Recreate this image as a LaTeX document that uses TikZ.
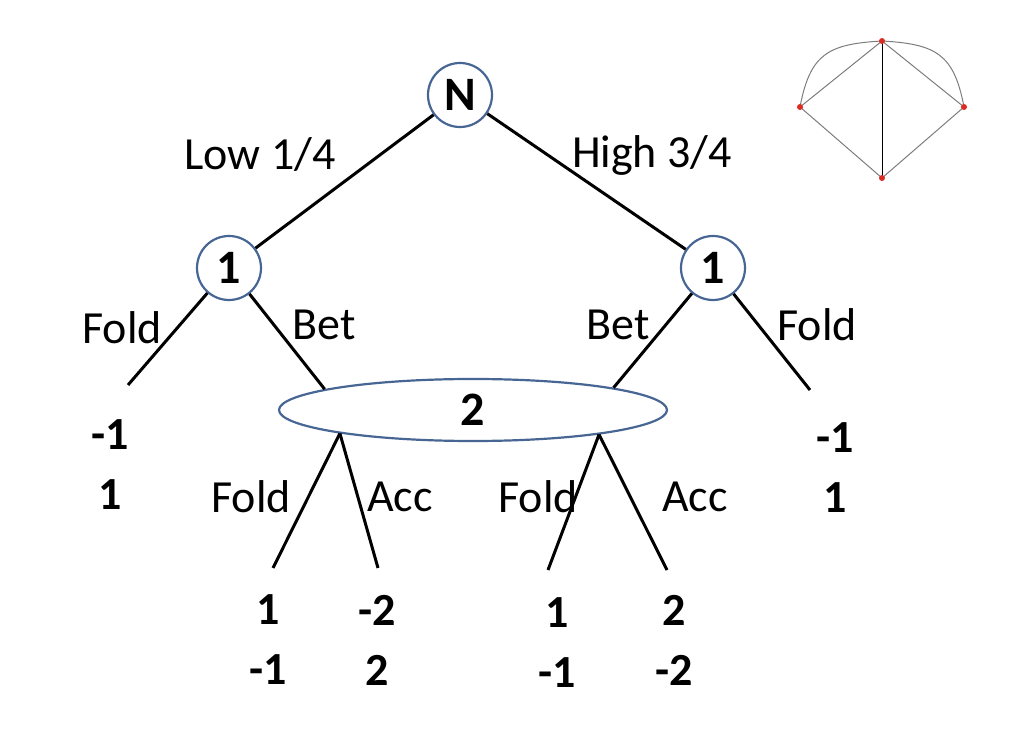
\documentclass[tikz,border=0pt]{standalone}
\usepackage{fontspec}
\setmainfont{Carlito}
\usetikzlibrary{shapes.geometric}
\definecolor{nodeblue}{RGB}{72,102,148}
\definecolor{graphgray}{RGB}{125,125,125}
\definecolor{dotred}{RGB}{220,45,35}

\begin{document}
\begin{tikzpicture}[
        x=0.5pt, y=-0.5pt,
        player/.style={circle, draw=nodeblue, line width=1.1pt, minimum size=32pt, inner sep=0pt, font=\fontsize{24}{28}\selectfont\bfseries},
        infoset/.style={ellipse, draw=nodeblue, line width=1.1pt, minimum width=194pt, minimum height=31pt, inner sep=0pt, font=\fontsize{24}{28}\selectfont\bfseries},
        branch/.style={line width=1.5pt},
        act/.style={font=\fontsize{23}{27}\selectfont},
        pay/.style={align=center, font=\fontsize{23}{30}\selectfont\bfseries},
        vdot/.style={circle, fill=dotred, inner sep=0pt, minimum size=3pt}
    ]
        \useasboundingbox (0,0) rectangle (1034,748);

        % decision nodes
        \node[player] (chance) at (460,95) {N};
        \node[player] (low) at (229,268) {1};
        \node[player] (high) at (713,268) {1};
        \node[infoset] (info) at (473,410) {2};

        % end points of the branches
        \coordinate (lowfold) at (128,385);
        \coordinate (highfold) at (810,390);
        \coordinate (lfold) at (273,568);
        \coordinate (lacc) at (378,568);
        \coordinate (rfold) at (548,570);
        \coordinate (racc) at (667,570);

        \draw[branch] (chance) -- (low);
        \draw[branch] (chance) -- (high);
        \draw[branch] (low) -- (lowfold);
        \draw[branch] (low) -- (info.172);
        \draw[branch] (high) -- (info.9);
        \draw[branch] (high) -- (highfold);
        \draw[branch] (info.190) -- (lfold);
        \draw[branch] (info.190) -- (lacc);
        \draw[branch] (info.349) -- (rfold);
        \draw[branch] (info.349) -- (racc);

        % action labels
        \node[act] (lowlab) at (260,155) {Low 1/4};
        \node[act] (highlab) at (652,155) {High 3/4};
        \node[act] (fold1) at (122,328) {Fold};
        \node[act] (bet1) at (324,325) {Bet};
        \node[act] (bet2) at (618,325) {Bet};
        \node[act] (fold2) at (817,325) {Fold};
        \node[act] (fold3) at (251,497) {Fold};
        \node[act] (acc3) at (400,497) {Acc};
        \node[act] (fold4) at (538,497) {Fold};
        \node[act] (acc4) at (695,497) {Acc};

        % payoffs
        \node[pay] (p1) at (110,465) {-1\\1};
        \node[pay] (p2) at (835,468) {-1\\1};
        \node[pay] (p3) at (268,640) {1\\-1};
        \node[pay] (p4) at (377,640) {-2\\2};
        \node[pay] (p5) at (557,643) {1\\-1};
        \node[pay] (p6) at (674,640) {2\\-2};

        % small graph
        \coordinate (gt) at (882,41);
        \coordinate (gl) at (800,107);
        \coordinate (gr) at (964,107);
        \coordinate (gb) at (882,178);
        \draw[graphgray, line width=0.5pt] (gt) -- (gl) -- (gb) -- (gr) -- (gt);
        \draw[black, line width=0.5pt] (gt) -- (gb);
        \draw[graphgray, line width=0.5pt] (gt) .. controls (828,44) and (810,54) .. (gl);
        \draw[graphgray, line width=0.5pt] (gt) .. controls (936,44) and (954,54) .. (gr);
        \foreach \v in {gt,gl,gr,gb}
            \node[vdot] at (\v) {};
    \end{tikzpicture}
\end{document}
